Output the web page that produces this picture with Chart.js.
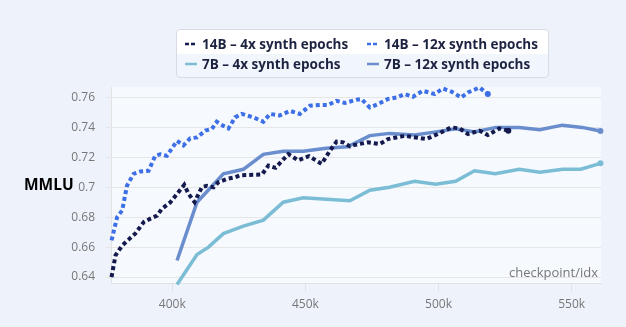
<!DOCTYPE html>
<html>
<head>
<meta charset="utf-8">
<script src="https://cdn.jsdelivr.net/npm/chart.js@4"></script>
<style>
  html, body { margin: 0; padding: 0; background: #eef3fb; }
  #wrap { position: relative; width: 626px; height: 327px; }
  #legend {
    position: absolute; left: 176px; top: 29px; width: 373px; height: 49px;
    box-sizing: border-box; border: 1px solid #d6dbe4; border-radius: 4px;
    background: linear-gradient(#ffffff 0%, #ffffff 50%, #f1f5fc 50%, #f1f5fc 100%);
    font-family: "Open Sans", sans-serif; font-weight: 700; font-size: 13.5px; color: #1c2340;
  }
  .item { position: absolute; display: flex; align-items: center; white-space: nowrap; }
  .item svg { margin-right: 5px; }
  #ylab { position: absolute; left: 24px; top: 173px; font-family: "Open Sans", sans-serif; font-weight: 700; font-size: 15.5px; color: #000; }
  #xlab { position: absolute; left: 509px; top: 263px; font-family: "Open Sans", sans-serif; font-size: 13px; color: #777; }
</style>
</head>
<body>
<div id="wrap">
  <canvas id="c" width="626" height="327"></canvas>
  <div id="ylab">MMLU</div>
  <div id="xlab">checkpoint/idx</div>
  <div id="legend"></div>
</div>
<script>
// checkpoints in thousands, MMLU values
const ckpt14b12x = [377.2, 379.3, 381.2, 383.0, 385.5, 388.0, 391.1, 393.6, 395.5, 398.0, 401.8, 404.2, 406.7, 409.3, 412.4, 414.9, 416.7, 419.2, 421.1, 423.6, 426.1, 430.4, 434.2, 436.7, 440.4, 444.2, 447.9, 451.7, 455.4, 458.5, 461.7, 464.8, 469.2, 471.0, 474.2, 477.3, 481.0, 484.2, 487.3, 490.4, 494.1, 498.5, 501.6, 504.8, 508.5, 511.0, 515.4, 518.5];
const mmlu14b12x = [0.6645, 0.680, 0.6845, 0.701, 0.709, 0.7105, 0.711, 0.721, 0.722, 0.721, 0.731, 0.728, 0.7327, 0.7333, 0.7378, 0.739, 0.7438, 0.741, 0.7393, 0.7467, 0.749, 0.7467, 0.7438, 0.749, 0.748, 0.751, 0.749, 0.7545, 0.755, 0.755, 0.7578, 0.7563, 0.7585, 0.759, 0.7533, 0.7556, 0.759, 0.760, 0.7623, 0.7605, 0.7645, 0.7623, 0.766, 0.764, 0.760, 0.7633, 0.7667, 0.7623];

const ckpt14b4x = [377.2, 378.7, 381.2, 383.6, 386.1, 389.3, 391.8, 394.3, 396.1, 399.3, 401.8, 404.5, 406.1, 408.4, 411.1, 413.0, 415.5, 417.3, 420.5, 423.6, 425.5, 433.7, 436.1, 438.8, 443.6, 447.3, 451.3, 456.1, 459.2, 461.7, 464.2, 466.7, 468.5, 473.5, 477.9, 481.0, 484.2, 487.3, 495.4, 499.7, 504.8, 507.9, 511.0, 515.4, 518.5, 522.8, 526.2];
const mmlu14b4x = [0.640, 0.6545, 0.661, 0.665, 0.669, 0.6767, 0.679, 0.681, 0.6855, 0.690, 0.6956, 0.7016, 0.6956, 0.690, 0.700, 0.701, 0.700, 0.7033, 0.7056, 0.7067, 0.708, 0.7085, 0.7145, 0.713, 0.7222, 0.718, 0.7208, 0.7156, 0.7244, 0.7305, 0.730, 0.7273, 0.7283, 0.730, 0.7289, 0.7322, 0.7333, 0.7344, 0.7322, 0.7356, 0.740, 0.7393, 0.7356, 0.7378, 0.7349, 0.7393, 0.7378];

const ckpt7b12x = [401.8, 409.3, 419.2, 426.7, 434.2, 441.7, 449.2, 457.7, 465.8, 474.2, 481.6, 491.0, 499.1, 506.4, 513.5, 521.5, 530.3, 538.0, 546.5, 553.9, 560.8];
const mmlu7b12x = [0.651, 0.690, 0.709, 0.712, 0.722, 0.724, 0.724, 0.726, 0.727, 0.7345, 0.736, 0.735, 0.737, 0.739, 0.737, 0.740, 0.740, 0.7385, 0.7415, 0.740, 0.7376];

const ckpt7b4x = [401.8, 409.3, 413.6, 419.2, 426.7, 434.2, 441.7, 449.2, 466.7, 474.2, 481.6, 491.0, 498.9, 506.4, 513.5, 521.3, 530.3, 538.1, 546.6, 553.4, 560.8];
const mmlu7b4x = [0.635, 0.655, 0.660, 0.669, 0.674, 0.678, 0.690, 0.693, 0.691, 0.698, 0.700, 0.704, 0.702, 0.704, 0.711, 0.709, 0.712, 0.710, 0.712, 0.712, 0.716];

const yTicks = [0.64, 0.66, 0.68, 0.7, 0.72, 0.74, 0.76];
const xTicks = [400, 450, 500, 550];

const series = [
  { label: "14B – 4x synth epochs", xs: ckpt14b4x, ys: mmlu14b4x, color: "#141a4e", dash: [4, 3] },
  { label: "14B – 12x synth epochs", xs: ckpt14b12x, ys: mmlu14b12x, color: "#3d6fe6", dash: [4, 3] },
  { label: "7B – 4x synth epochs", xs: ckpt7b4x, ys: mmlu7b4x, color: "#7cbdd6", dash: [] },
  { label: "7B – 12x synth epochs", xs: ckpt7b12x, ys: mmlu7b12x, color: "#6a8dcd", dash: [] }
];

// html legend, 2 columns
const legendPos = [[8, 5], [190, 5], [8, 25], [190, 25]];
const legend = document.getElementById("legend");
series.forEach((s, i) => {
  const d = document.createElement("div");
  d.className = "item";
  d.style.left = legendPos[i][0] + "px";
  d.style.top = legendPos[i][1] + "px";
  const da = s.dash.length ? 'stroke-dasharray="4 2"' : "";
  d.innerHTML = '<svg width="12" height="6"><line x1="0" y1="3" x2="12" y2="3" stroke="' + s.color + '" stroke-width="2.5" ' + da + '/></svg><span>' + s.label + '</span>';
  legend.appendChild(d);
});

const plotBg = {
  id: "plotBg",
  beforeDraw(chart) {
    const { ctx, chartArea: a } = chart;
    ctx.save();
    ctx.fillStyle = "#f6f9fe";
    ctx.fillRect(a.left, a.top, a.right - a.left, a.bottom - a.top);
    ctx.restore();
  }
};

new Chart(document.getElementById("c"), {
  type: "line",
  data: {
    datasets: series.map(s => ({
      label: s.label,
      data: s.xs.map((x, i) => ({ x: x, y: s.ys[i] })),
      borderColor: s.color,
      backgroundColor: s.color,
      borderWidth: s.dash.length ? 4 : 3.5,
      borderDash: s.dash,
      borderCapStyle: "butt",
      tension: 0,
      pointRadius: ctx => ctx.dataIndex === s.xs.length - 1 ? 3 : 0,
      pointBorderWidth: 0,
      clip: false
    }))
  },
  options: {
    responsive: false,
    animation: false,
    layout: { padding: { top: 87, right: 25, left: 0, bottom: 0 } },
    plugins: { legend: { display: false }, tooltip: { enabled: false } },
    scales: {
      x: {
        type: "linear",
        min: 377,
        max: 561,
        afterBuildTicks: sc => { sc.ticks = xTicks.map(v => ({ value: v })); },
        afterFit: sc => { sc.height = 44; },
        ticks: { callback: v => v + "k", color: "#777", padding: 6, font: { family: "Open Sans", size: 12 }, maxRotation: 0 },
        grid: { drawOnChartArea: false, tickLength: 8, color: "#e2e2e2" },
        border: { color: "#e2e2e2" }
      },
      y: {
        min: 0.636,
        max: 0.767,
        afterBuildTicks: sc => { sc.ticks = yTicks.map(v => ({ value: v })); },
        afterFit: sc => { sc.width = 111; },
        ticks: { callback: v => String(v), color: "#777", padding: 11, font: { family: "Open Sans", size: 12 } },
        grid: { color: "#e6e6e6", tickLength: 5 },
        border: { color: "#e2e2e2" }
      }
    }
  },
  plugins: [plotBg]
});
</script>
</body>
</html>
